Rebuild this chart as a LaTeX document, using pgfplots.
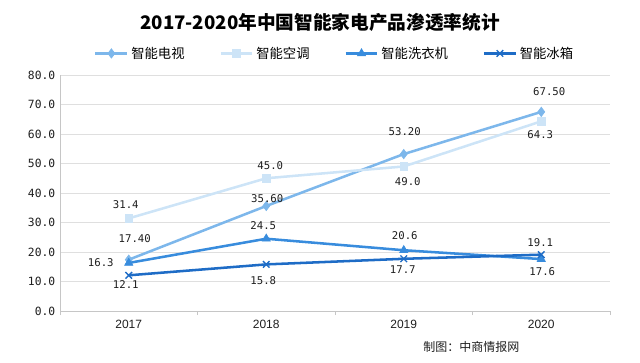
\documentclass[border=0pt]{standalone}
\usepackage{fontspec}
\setmainfont{Liberation Sans}
\newfontfamily\cjk{Noto Sans CJK SC}
\newfontfamily\num{DejaVu Sans Mono}
\usepackage{pgfplots}
\usepackage{pgfplotstable}
\pgfplotsset{compat=1.18}
\definecolor{ctv}{RGB}{125,183,235}
\definecolor{cac}{RGB}{205,228,247}
\definecolor{cwm}{RGB}{56,140,221}
\definecolor{cfr}{RGB}{30,108,198}
\definecolor{lbl}{RGB}{30,30,30}

% x y lx ly  (label offsets in px)
\pgfplotstableread{
x y lx ly
0 17.40 6 21
1 35.60 1 7
2 53.20 1 22
3 67.50 8 20
}\tv
\pgfplotstableread{
x y lx ly
0 31.4 -3 14
1 45.0 4 13
2 49.0 4 -15
3 64.3 -1 -13
}\ac
\pgfplotstableread{
x y lx ly
0 16.3 -28 0
1 24.5 -3 13
2 20.6 1 15
3 17.6 1 -13
}\wm
\pgfplotstableread{
x y lx ly
0 12.1 -3 -9
1 15.8 -3 -16
2 17.7 -1 -11
3 19.1 -1 12
}\fr

\begin{document}
\begin{tikzpicture}
\path[use as bounding box] (0,0) rectangle (480pt,271.5pt);
\node at (240pt,255pt) {\cjk\bfseries\fontsize{14}{16}\selectfont 2017-2020年中国智能家电产品渗透率统计};
\node[anchor=west] at (314pt,11.25pt) {\cjk\fontsize{9}{11}\selectfont\color{lbl} 制图：中商情报网};
\begin{axis}[
  at={(45pt,38.25pt)}, anchor=south west, scale only axis,
  width=412.5pt, height=177pt,
  xmin=-0.5, xmax=3.5, ymin=0, ymax=80,
  xtick={0,1,2,3}, xticklabels={2017,2018,2019,2020},
  minor xtick={-0.5,0.5,1.5,2.5,3.5},
  ytick={0,10,...,80},
  yticklabel style={/pgf/number format/fixed, /pgf/number format/fixed zerofill, /pgf/number format/precision=1, /pgf/number format/assume math mode=true},
  yticklabel style={font=\num\fontsize{8.5}{10}\selectfont, text=lbl},
  xticklabel style={font=\fontsize{9}{11}\selectfont, text=lbl, yshift=-3pt},
  ymajorgrids, grid style={gray!25, line width=0.6pt},
  axis x line*=bottom, axis y line*=left,
  axis line style={gray!45, line width=0.6pt},
  major tick length=0pt, minor tick length=3pt,
  tick align=outside,
  minor tick style={gray!45},
  clip=false,
  every axis plot/.append style={line width=1.9pt},
  nodes near coords,
  nodes near coords style={font=\num\fontsize{8}{10}\selectfont, text=lbl, anchor=center,
     xshift=\lx*0.75pt, yshift=\ly*0.75pt},
  visualization depends on={\thisrow{lx} \as \lx},
  visualization depends on={\thisrow{ly} \as \ly},
  legend columns=4,
  legend style={draw=none, fill=none, at={(0.5,1)}, anchor=south, yshift=7pt,
    font=\cjk\fontsize{10}{12}\selectfont,
    /tikz/every even column/.append style={column sep=24pt}},
  legend image code/.code={%
    \draw[mark repeat=2,mark phase=2,#1] plot coordinates {(0cm,0cm) (0.42cm,0cm) (0.84cm,0cm)};},
]
\addplot[color=ctv, mark=diamond*, mark size=3.5pt, mark options={line width=0.5pt},
  nodes near coords={\pgfmathprintnumber[fixed,fixed zerofill,precision=2,assume math mode=true]{\pgfplotspointmeta}}]
  table[x=x,y=y] {\tv};
\addlegendentry{智能电视}
\addplot[color=cac, mark=square*, mark size=2.8pt, mark options={line width=0.5pt},
  nodes near coords={\pgfmathprintnumber[fixed,fixed zerofill,precision=1,assume math mode=true]{\pgfplotspointmeta}}]
  table[x=x,y=y] {\ac};
\addlegendentry{智能空调}
\addplot[color=cwm, mark=triangle*, mark size=3.5pt, mark options={line width=0.5pt},
  nodes near coords={\pgfmathprintnumber[fixed,fixed zerofill,precision=1,assume math mode=true]{\pgfplotspointmeta}}]
  table[x=x,y=y] {\wm};
\addlegendentry{智能洗衣机}
\addplot[color=cfr, mark=x, mark size=3.5pt, mark options={line width=1pt},
  nodes near coords={\pgfmathprintnumber[fixed,fixed zerofill,precision=1,assume math mode=true]{\pgfplotspointmeta}}]
  table[x=x,y=y] {\fr};
\addlegendentry{智能冰箱}
\end{axis}
\end{tikzpicture}
\end{document}
